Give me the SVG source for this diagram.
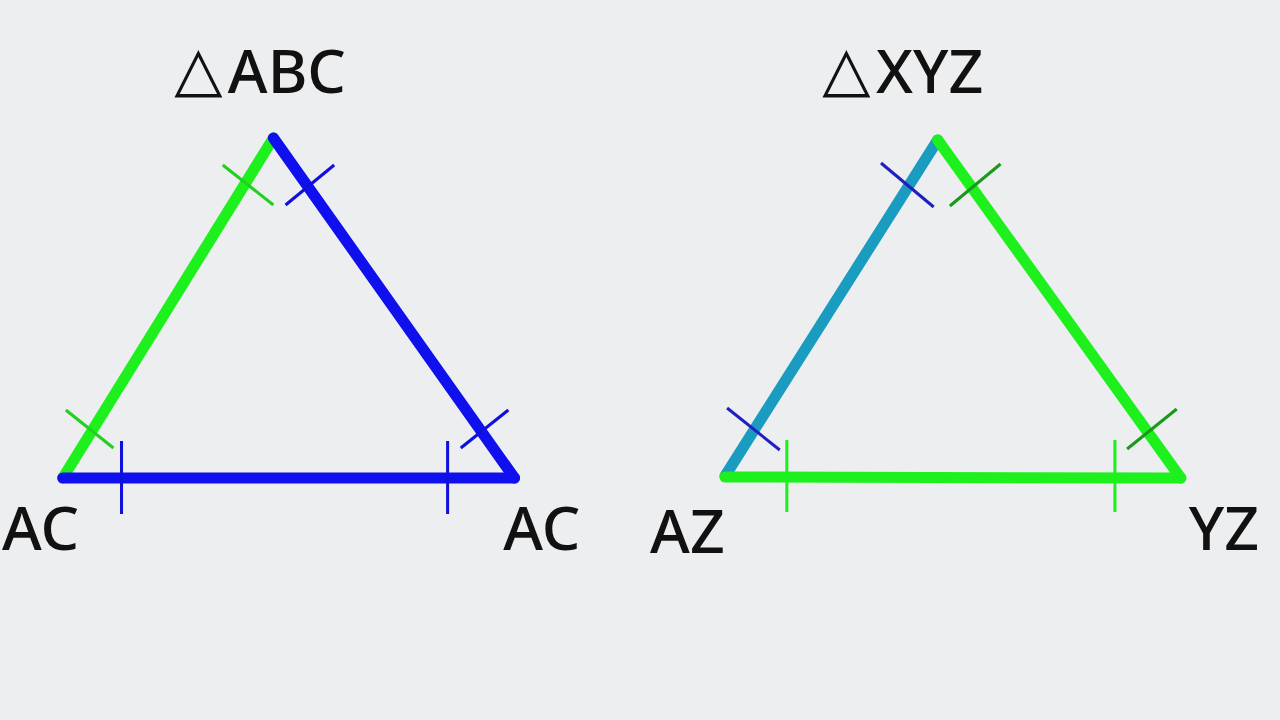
<svg xmlns="http://www.w3.org/2000/svg" width="1280" height="720" viewBox="0 0 1280 720">
<style>
.side{stroke-width:11;stroke-linecap:round;fill:none}
.tick{stroke-width:3;fill:none}
.lbl{font-family:"Noto Sans","Open Sans","Liberation Sans",sans-serif;font-size:60px;font-weight:500;fill:#111}
.tri{font-family:"DejaVu Sans",sans-serif;font-size:62px;fill:#111}
</style>
<rect width="1280" height="720" fill="#eceef0"/>
<g transform="scale(1.01266,1)">
<g id="triangle-abc">
<line class="side" x1="62" y1="478" x2="270" y2="138" stroke="#1ef01e"/>
<line class="side" x1="270" y1="138" x2="508" y2="478" stroke="#1010ee"/>
<line class="side" x1="62" y1="478" x2="508" y2="478" stroke="#1010ee"/>
<line class="tick" x1="220" y1="165" x2="270" y2="205" stroke="#22d022"/>
<line class="tick" x1="65" y1="410" x2="112" y2="448" stroke="#22d022"/>
<line class="tick" x1="282" y1="205" x2="330" y2="165" stroke="#1010dd"/>
<line class="tick" x1="455" y1="448" x2="502" y2="410" stroke="#1010dd"/>
<line class="tick" x1="120" y1="441" x2="120" y2="514" stroke="#1010dd"/>
<line class="tick" x1="442" y1="441" x2="442" y2="514" stroke="#1010dd"/>
</g>
<g id="triangle-xyz">
<line class="side" x1="716" y1="476" x2="926" y2="140" stroke="#1a9cc0"/>
<line class="side" x1="926" y1="140" x2="1166" y2="478" stroke="#1ef01e"/>
<line class="side" x1="716" y1="477" x2="1166" y2="478" stroke="#1ef01e"/>
<line class="tick" x1="870" y1="163" x2="922" y2="207" stroke="#2020c0"/>
<line class="tick" x1="718" y1="408" x2="770" y2="450" stroke="#2020c0"/>
<line class="tick" x1="938" y1="206" x2="988" y2="164" stroke="#1a9a1a"/>
<line class="tick" x1="1113" y1="449" x2="1162" y2="409" stroke="#1a9a1a"/>
<line class="tick" x1="777" y1="440" x2="777" y2="512" stroke="#1ef01e"/>
<line class="tick" x1="1101" y1="440" x2="1101" y2="512" stroke="#1ef01e"/>
</g>
<g id="labels">
<text class="tri" x="172" y="90">△</text>
<text class="lbl" x="225" y="93">ABC</text>
<text class="tri" x="812" y="90">△</text>
<text class="lbl" x="865" y="93">XYZ</text>
<text class="lbl" x="2" y="550">AC</text>
<text class="lbl" x="497" y="550">AC</text>
<text class="lbl" x="642" y="553">AZ</text>
<text class="lbl" x="1174" y="550">YZ</text>
</g>
</g>
</svg>
